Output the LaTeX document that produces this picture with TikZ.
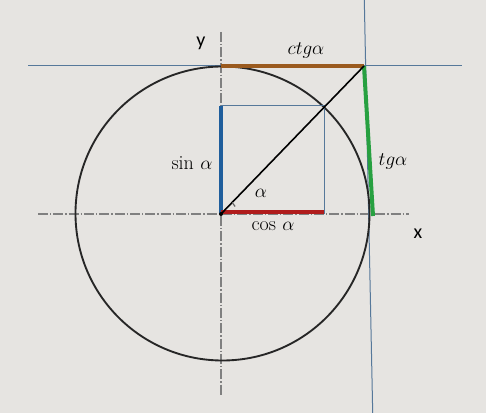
\documentclass[tikz,border=0pt]{standalone}
\usepackage{fontspec}
\newfontfamily\axfont{Carlito}
\begin{document}
\begin{tikzpicture}[x=0.75pt,y=-0.75pt,
  axisline/.style={draw=black!50, line width=1.5pt, dash pattern=on 7.5pt off 1.5pt on 1pt off 1.5pt},
  thinline/.style={draw=tline, line width=0.75pt},
  seg/.style={line width=3pt},
  lbl/.style={inner sep=0pt, font=\fontsize{15}{17}\selectfont},
  axlbl/.style={inner sep=0pt, font=\axfont\fontsize{15}{17}\selectfont}]
\definecolor{bg}{HTML}{E6E4E1}
\definecolor{tline}{HTML}{56789A}
\definecolor{brownc}{HTML}{9A5A1E}
\definecolor{greenc}{HTML}{27A040}
\definecolor{bluec}{HTML}{1F5E9C}
\definecolor{redc}{HTML}{B01C1C}
\fill[bg] (0,0) rectangle (486,413);
\useasboundingbox (0,0) rectangle (486,413);
% points
\coordinate (O) at (221,214);
\coordinate (P) at (324,106);
\coordinate (S) at (221,106);
\coordinate (C) at (324,214);
\coordinate (T) at (364,66);
\coordinate (Y1) at (221,66);
\coordinate (G) at (373,216);
\coordinate (XL) at (38,214);
\coordinate (XR) at (409,214);
\coordinate (YT) at (221,32);
\coordinate (YB) at (221,396);
\coordinate (HL) at (28,66);
\coordinate (HR) at (462,66);
\coordinate (VT) at (364.3,0);
\coordinate (VB) at (372.7,413);
% axes
\draw[axisline] (XL) -- (XR);
\draw[axisline] (YT) -- (YB);
% tangent lines
\draw[thinline] (HL) -- (HR);
\draw[thinline] (VT) -- (VB);
% circle
\draw[line width=1.4pt, black!85] (222.5,213.5) circle (147);
% rectangle
\draw[thinline] (S) -- (P) -- (C);
% coloured segments
\draw[seg, brownc] (Y1) -- (T);
\draw[seg, greenc] (T) -- (G);
\draw[seg, bluec] (S) -- (O);
\draw[seg, redc] ([yshift=1.5]O) -- ([yshift=1.5]C);
% radius
\draw[black, line width=1.2pt] (O) -- (T);
\fill[black] (O) circle (2);
% angle mark
\draw[black!60, line width=0.9pt] ([shift={(-28:16)}]O) arc (-28:-46:16);
% labels
\node[axlbl] (ylab) at (201,43) {y};
\node[axlbl] (xlab) at (418,234) {x};
\node[lbl] (ctg) at (306,50) {$ctg\alpha$};
\node[lbl] (sin) at (192,163) {$\sin\,\alpha$};
\node[lbl] (tg) at (393,161) {$tg\alpha$};
\node[lbl] (alpha) at (261,193) {$\alpha$};
\node[lbl] (cos) at (273,226) {$\cos\,\alpha$};
\end{tikzpicture}
\end{document}
